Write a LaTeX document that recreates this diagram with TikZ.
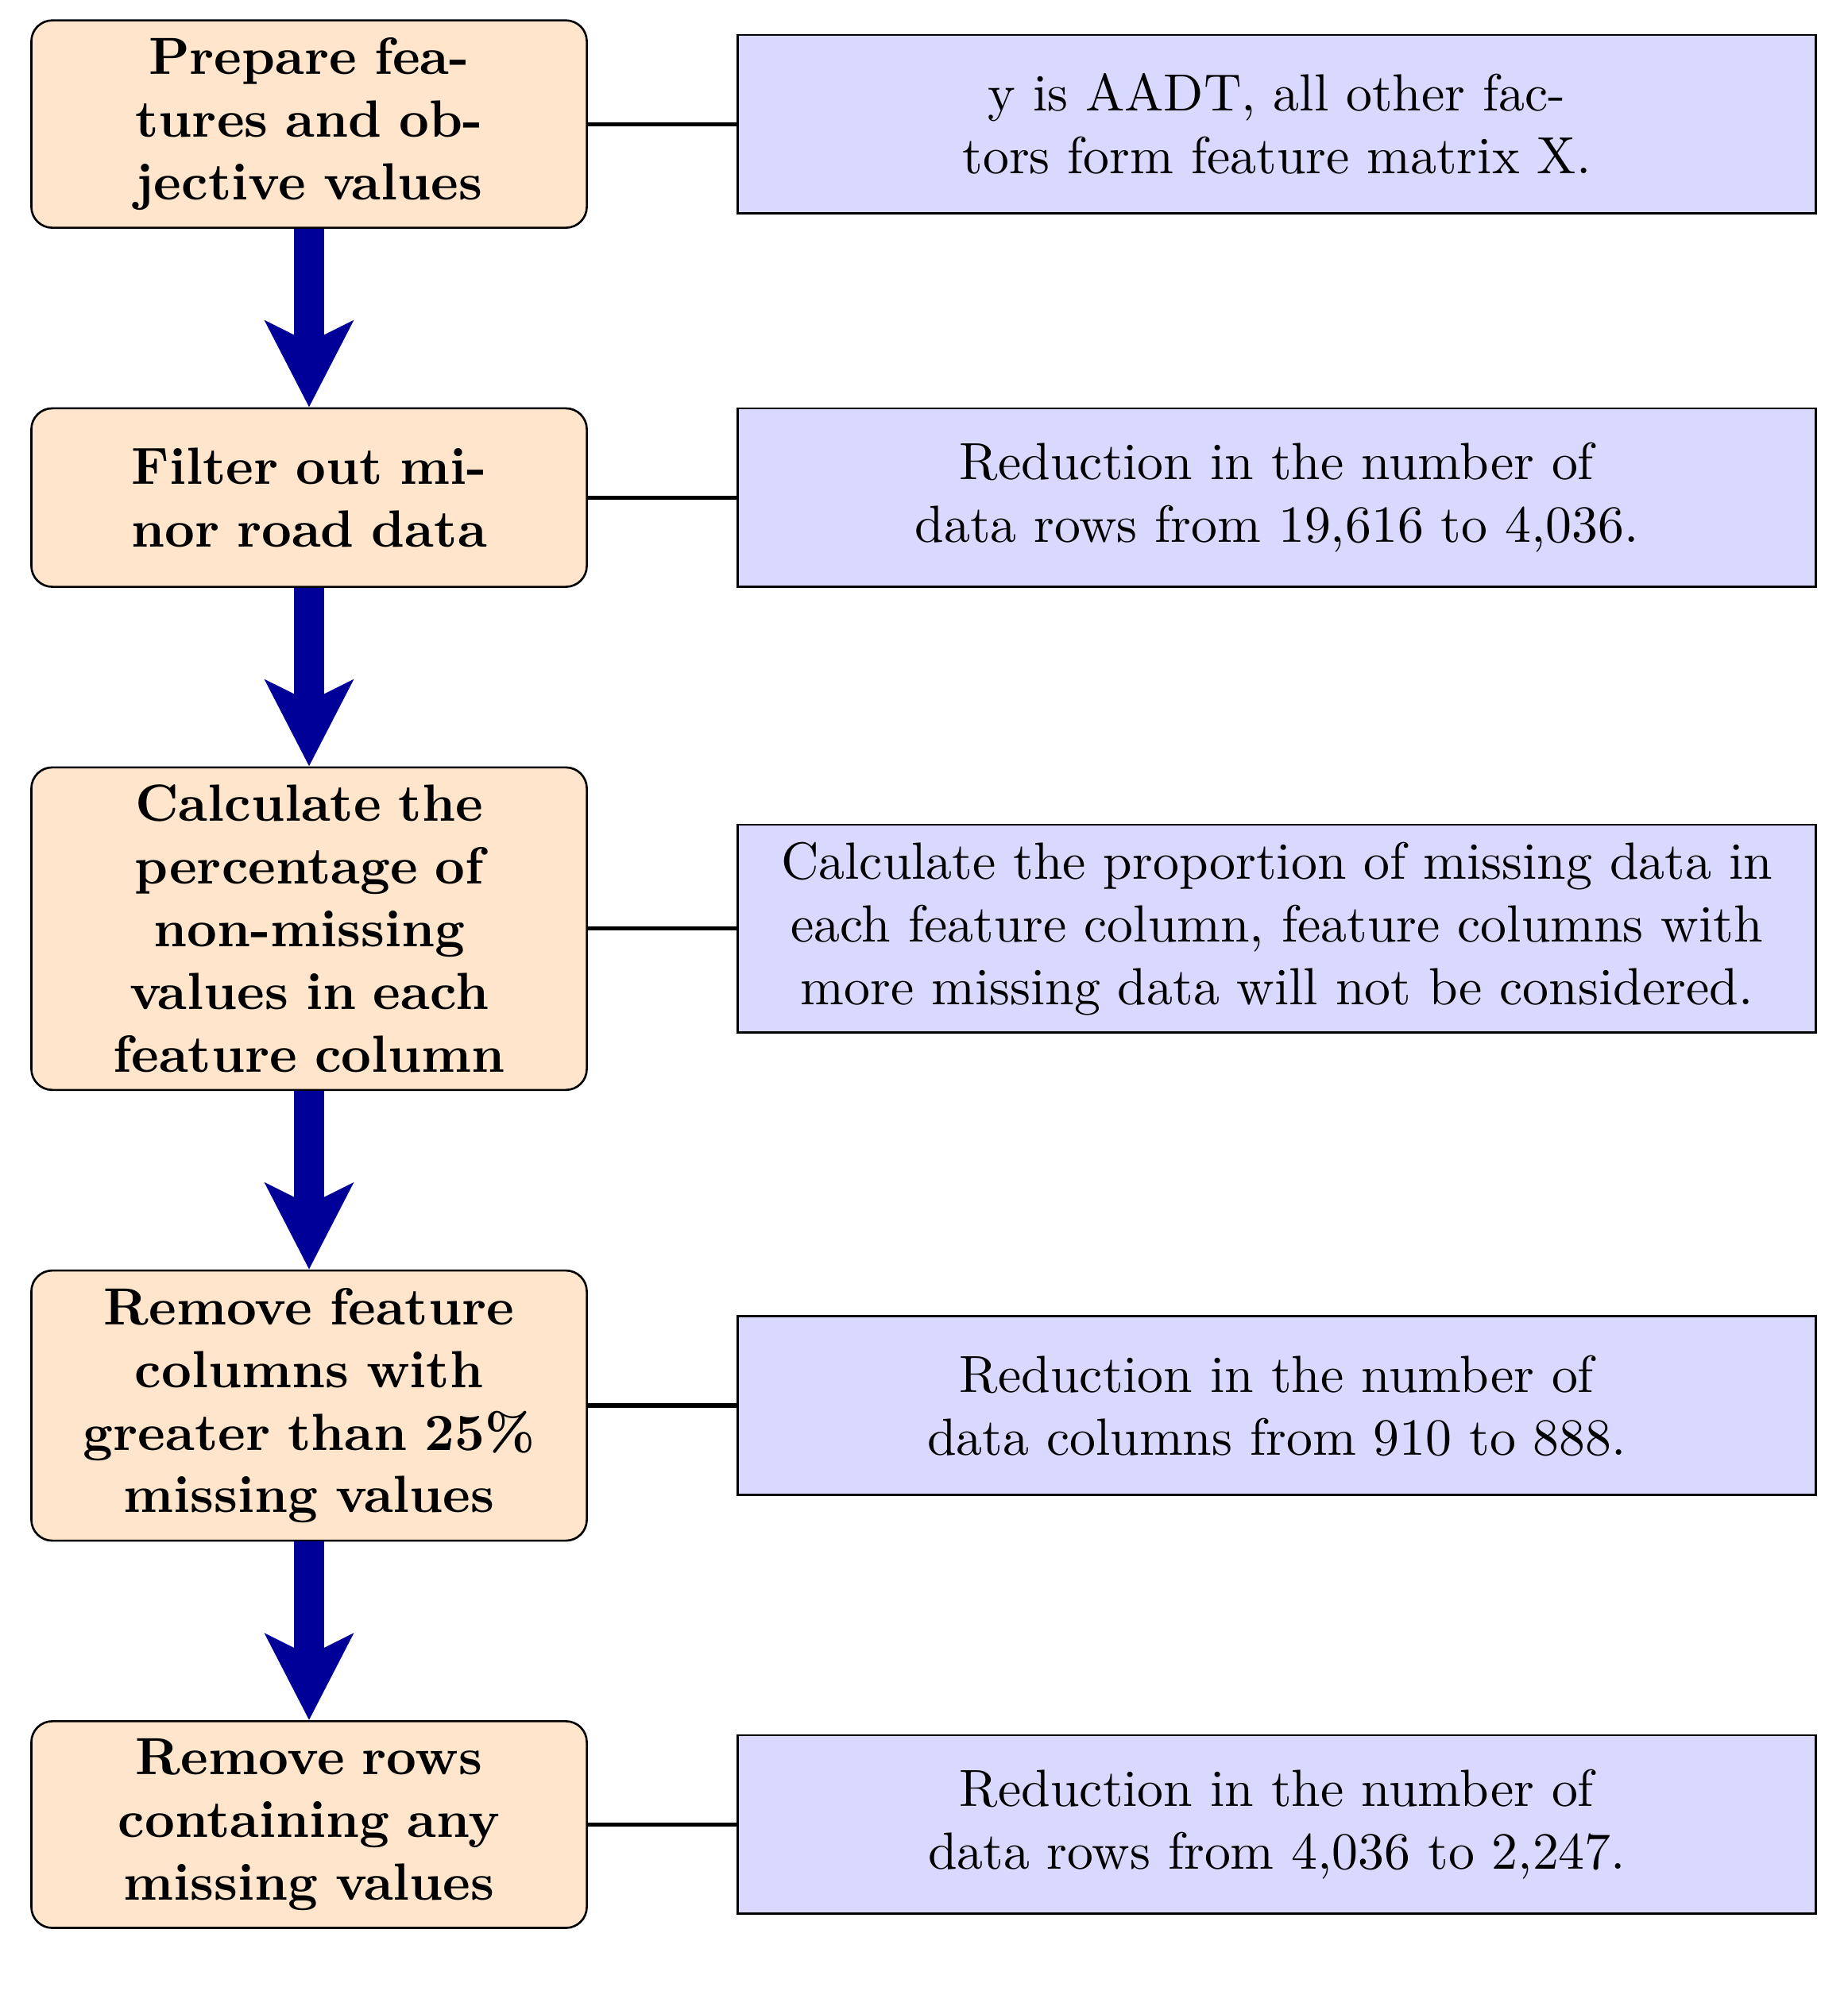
\documentclass[tikz,border=0pt]{standalone}
\usepackage{tikz}
\usetikzlibrary{positioning}
\usetikzlibrary{arrows.meta}
\definecolor{arrowblue}{RGB}{0,0,153}
\tikzset{
	stepbox/.style={
		rectangle,
		rounded corners,
		draw,
		fill=orange!20,
		text width=3.5cm,
		minimum height=1.2cm,
		align=center,
		font=\bfseries
	},
	notebox/.style={
		rectangle,
		draw,
		fill=blue!15,
		minimum width=7.25cm,
		minimum height=1.2cm,
		text width=7cm,
		align=center
	},
	flowarrow/.style={
		line width=5.9pt,
		draw=arrowblue,
		-{Stealth[length=16.4pt,width=16.6pt,inset=4pt]}
	},
	link/.style={thick},
	flow/.style={
		node distance = 1.2cm and 1cm
	}
}

\begin{document}
\begin{tikzpicture} [flow]
	% steps
	\node [stepbox] (prepare) {Prepare features and objective values};
	\node [stepbox, below=of prepare] (filter) {Filter out minor road data};
	\node [stepbox, below=of filter] (percent) {Calculate the percentage of non-missing values in each feature column};
	\node [stepbox, below=of percent] (dropcols) {Remove feature columns with greater than 25\% missing values};
	\node [stepbox, below=of dropcols] (droprows) {Remove rows containing any missing values};

	% notes
	\node [notebox, right=of prepare] (prepnote) {y is AADT, all other fac-\\tors form feature matrix X.};
	\node [notebox, right=of filter] (filternote) {Reduction in the number of\\data rows from 19,616 to 4,036.};
	\node [notebox, right=of percent] (percentnote) {Calculate the proportion of missing data in each feature column, feature columns with more missing data will not be considered.};
	\node [notebox, right=of dropcols] (dropcolsnote) {Reduction in the number of\\data columns from 910 to 888.};
	\node [notebox, right=of droprows] (droprowsnote) {Reduction in the number of\\data rows from 4,036 to 2,247.};

	\draw [flowarrow] (prepare) -- (filter);
	\draw [flowarrow] (filter) -- (percent);
	\draw [flowarrow] (percent) -- (dropcols);
	\draw [flowarrow] (dropcols) -- (droprows);

	\draw [link] (prepare) -- (prepnote);
	\draw [link] (filter) -- (filternote);
	\draw [link] (percent) -- (percentnote);
	\draw [link] (dropcols) -- (dropcolsnote);
	\draw [link] (droprows) -- (droprowsnote);

	\path (droprows.south -| droprowsnote.east) coordinate (corner);
	\useasboundingbox ([xshift=-5.8pt,yshift=3.7pt]prepare.north west) rectangle ([xshift=5.8pt,yshift=-13.4pt]corner);
\end{tikzpicture}
\end{document}
